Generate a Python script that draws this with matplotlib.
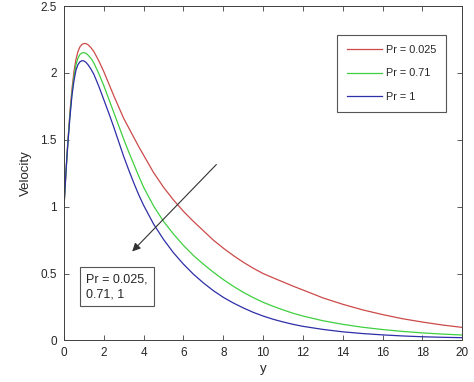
import matplotlib
matplotlib.use("Agg")
import matplotlib.pyplot as plt

# values
y_pos = [0, 0.05, 0.1, 0.15, 0.2, 0.3, 0.4, 0.5, 0.6, 0.7, 0.8, 0.9, 1.0, 1.1, 1.2,
         1.35, 1.5, 1.75, 2, 2.25, 2.5, 2.75, 3, 3.25, 3.5, 3.75, 4, 4.5, 5, 5.5,
         6, 6.5, 7, 7.5, 8, 8.5, 9, 9.5, 10, 10.5, 11, 11.5, 12, 13, 14, 15, 16,
         17, 18, 19, 20]
vel_pr_0025 = [1.0, 1.13, 1.26, 1.38, 1.5, 1.71, 1.88, 2.01, 2.1, 2.16, 2.195, 2.213,
               2.22, 2.22, 2.212, 2.19, 2.16, 2.09, 2.01, 1.92, 1.83, 1.745, 1.66,
               1.59, 1.52, 1.45, 1.385, 1.255, 1.145, 1.05, 0.965, 0.89, 0.82, 0.75,
               0.69, 0.635, 0.585, 0.54, 0.50, 0.468, 0.437, 0.406, 0.377, 0.318,
               0.27, 0.228, 0.193, 0.162, 0.137, 0.115, 0.097]
vel_pr_071 = [1.0, 1.13, 1.26, 1.38, 1.49, 1.69, 1.85, 1.97, 2.06, 2.11, 2.138, 2.15,
              2.152, 2.147, 2.135, 2.11, 2.075, 1.995, 1.905, 1.805, 1.705, 1.605,
              1.505, 1.41, 1.32, 1.23, 1.145, 1.005, 0.89, 0.795, 0.71, 0.635, 0.57,
              0.51, 0.455, 0.405, 0.36, 0.32, 0.285, 0.255, 0.228, 0.203, 0.182,
              0.147, 0.12, 0.098, 0.081, 0.067, 0.056, 0.047, 0.04]
vel_pr_1 = [1.0, 1.13, 1.26, 1.38, 1.48, 1.67, 1.83, 1.94, 2.02, 2.062, 2.083, 2.092,
            2.09, 2.08, 2.063, 2.03, 1.99, 1.9, 1.8, 1.7, 1.595, 1.485, 1.375, 1.275,
            1.18, 1.09, 1.01, 0.87, 0.755, 0.655, 0.57, 0.495, 0.43, 0.372, 0.322,
            0.28, 0.243, 0.21, 0.182, 0.158, 0.138, 0.12, 0.105, 0.082, 0.064,
            0.051, 0.041, 0.033, 0.027, 0.023, 0.02]

labels = ["Pr = 0.025", "Pr = 0.71", "Pr = 1"]
colors = ["#cc4a4a", "#3fcf3f", "#2e2ea8"]

plt.rcParams["font.family"] = ["Liberation Sans", "DejaVu Sans"]
text_col = "#262626"

fig = plt.figure(figsize=(4.74, 3.82), dpi=100)
ax = fig.add_axes([0.135, 0.109, 0.84, 0.875])

for vals, lab, col in zip([vel_pr_0025, vel_pr_071, vel_pr_1], labels, colors):
    ax.plot(y_pos, vals, color=col, lw=0.9, label=lab)

ax.set_xlim(0, 20)
ax.set_ylim(0, 2.5)
ax.set_xticks(range(0, 21, 2))
ax.set_yticks([0, 0.5, 1, 1.5, 2, 2.5])
ax.set_yticklabels(["0", "0.5", "1", "1.5", "2", "2.5"])
ax.tick_params(direction="in", top=True, right=True, length=3.5, width=0.6,
               labelsize=8.5, colors="#404040", labelcolor=text_col, pad=5)
for sp in ax.spines.values():
    sp.set_color("#404040")
    sp.set_linewidth(0.7)

ax.set_xlabel("y", fontsize=9.5, color=text_col, labelpad=3)
ax.set_ylabel("Velocity", fontsize=9.5, color=text_col, labelpad=6)

leg = ax.legend(loc="upper left", bbox_to_anchor=(0.686, 0.913), borderaxespad=0,
                fontsize=7.8, handlelength=3.2, handletextpad=0.4, labelspacing=1.25,
                borderpad=0.9, fancybox=False, framealpha=1)
leg.get_frame().set_edgecolor("#555555")
leg.get_frame().set_linewidth(0.8)
for t in leg.get_texts():
    t.set_color(text_col)

ax.annotate("", xy=(3.33, 0.65), xytext=(7.75, 1.33),
            arrowprops=dict(arrowstyle="-|>", color="#333333", lw=0.8,
                            mutation_scale=12))

ax.text(1.12, 0.40, "Pr = 0.025,\n0.71, 1", fontsize=9, color=text_col,
        va="center", ha="left", linespacing=1.3,
        bbox=dict(boxstyle="square,pad=0.5", fc="white", ec="#555555", lw=0.8))

fig.savefig("out.png", dpi=100)
